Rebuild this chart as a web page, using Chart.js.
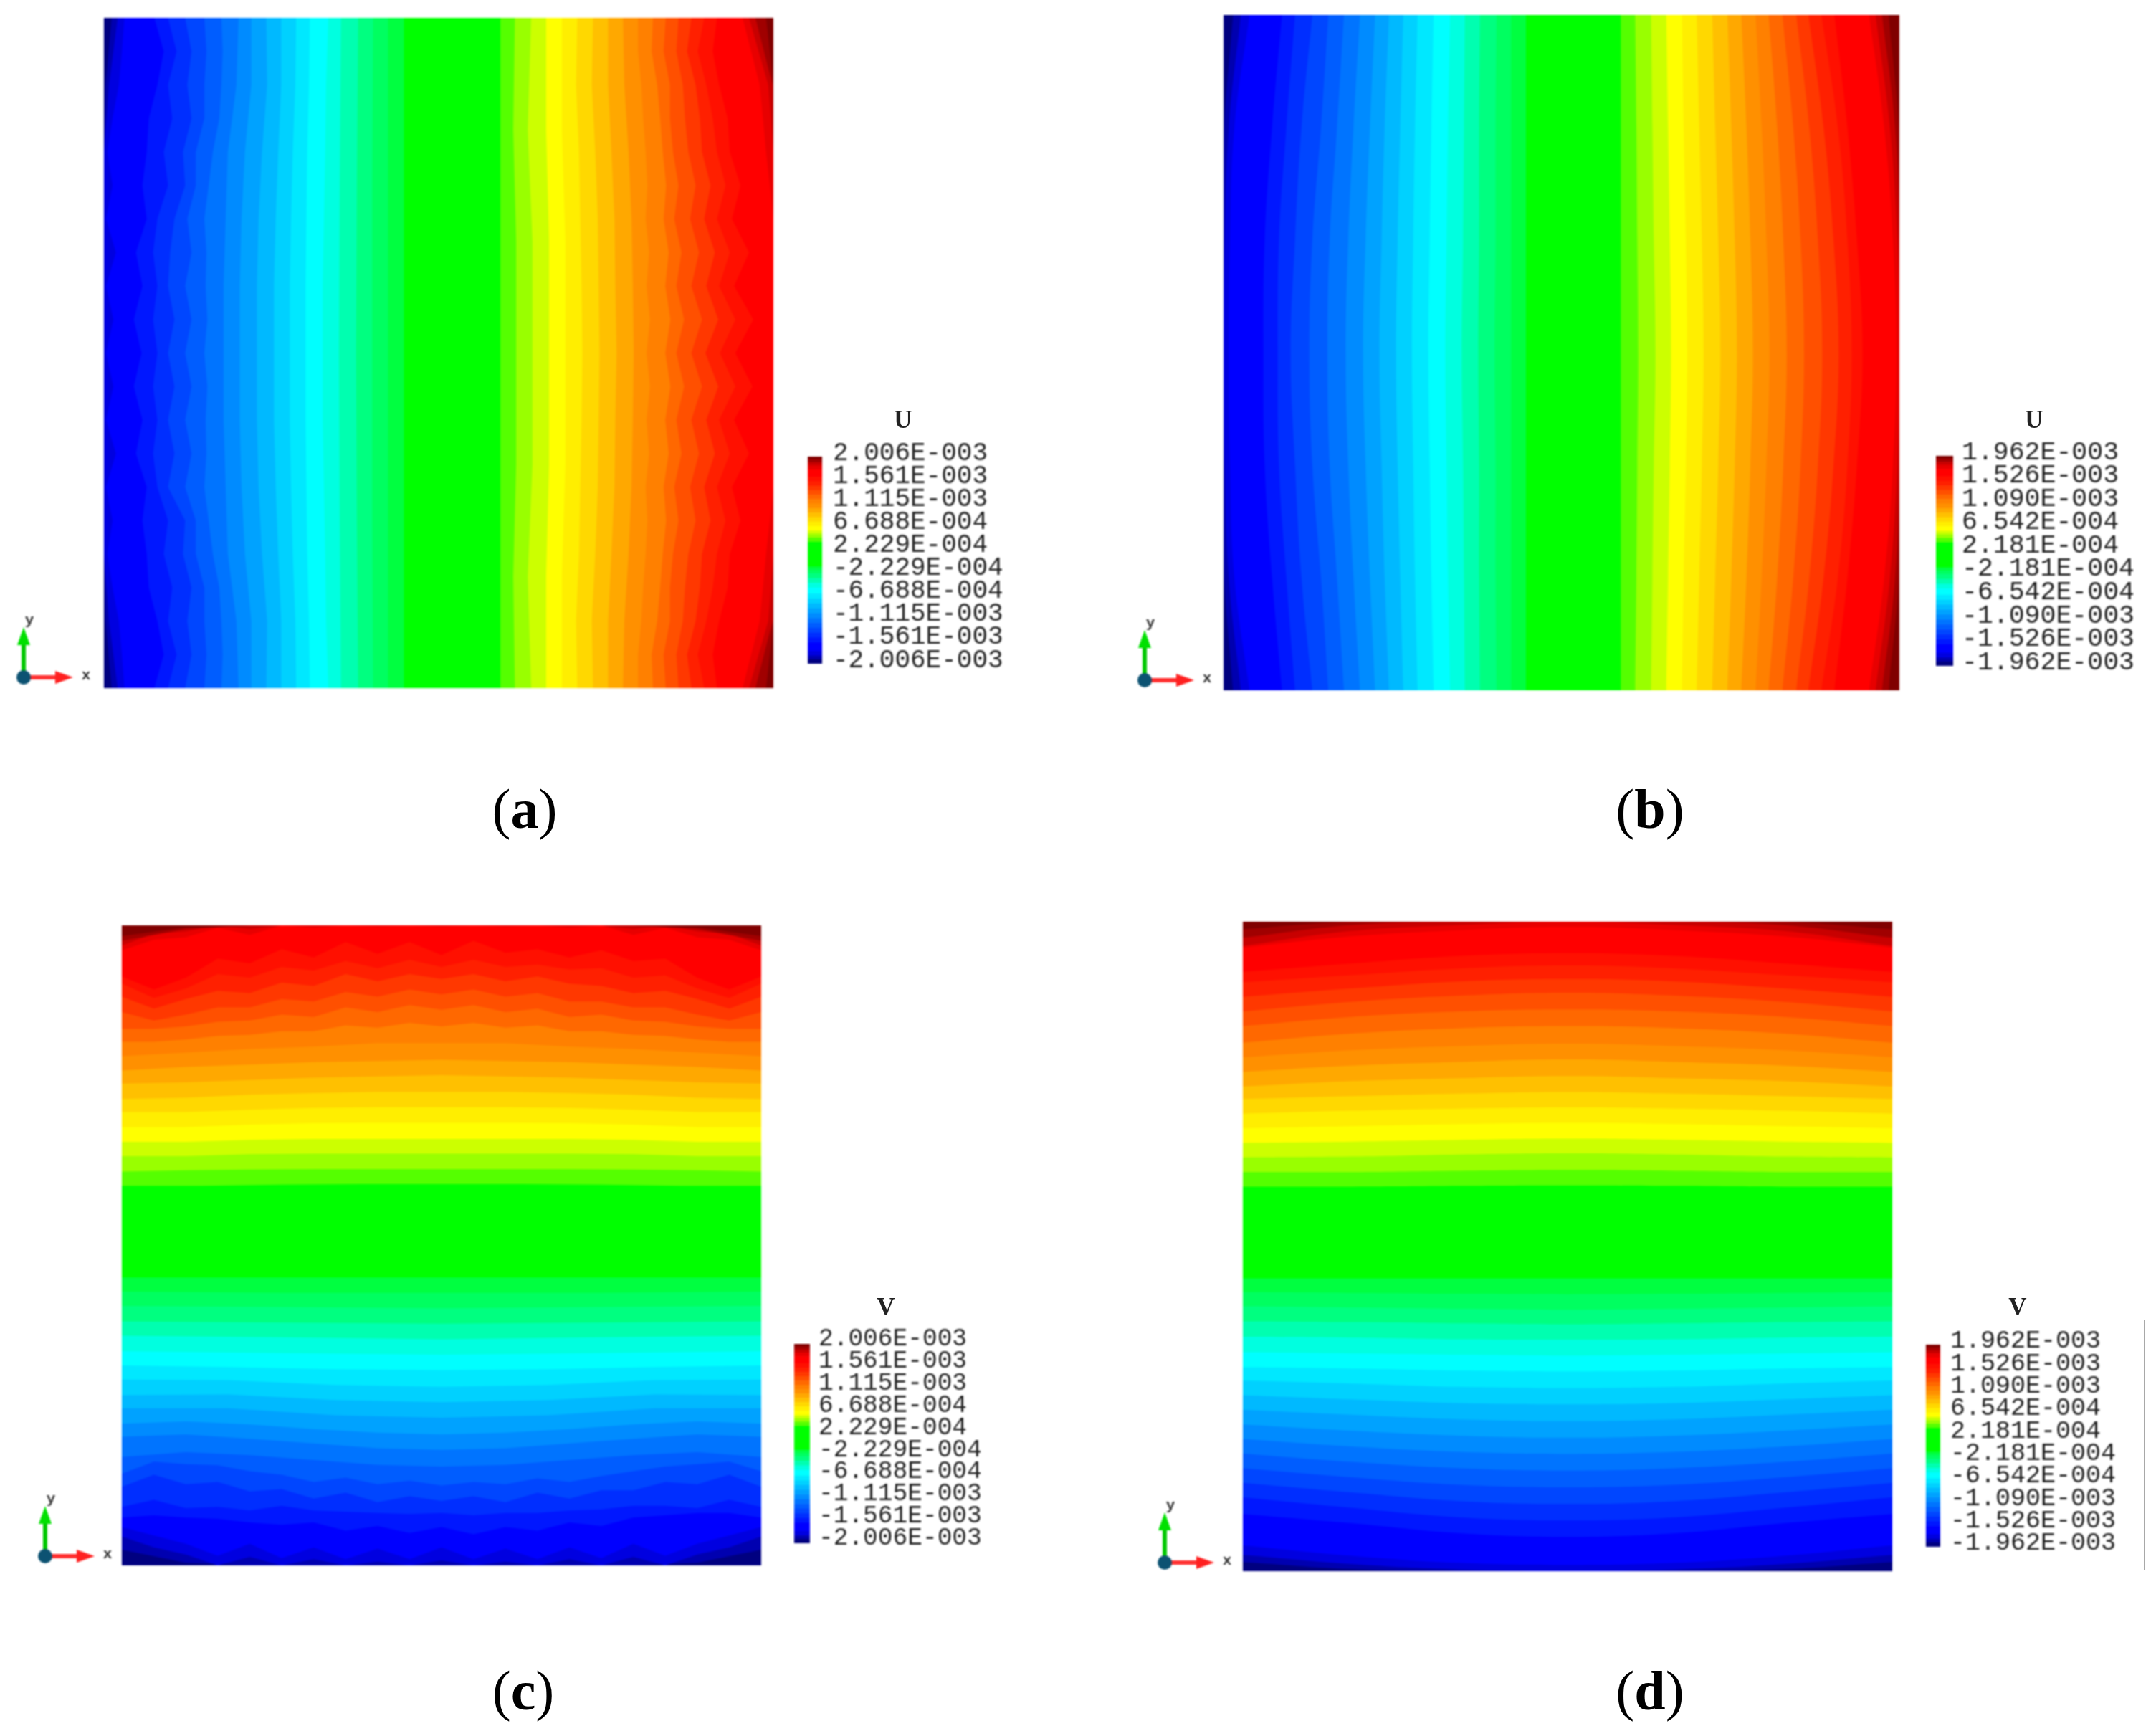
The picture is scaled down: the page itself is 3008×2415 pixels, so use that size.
<!DOCTYPE html>
<html>
<head>
<meta charset="utf-8">
<title>U and V contours</title>
<script src="https://cdn.jsdelivr.net/npm/chart.js@4"></script>
<style>
  html, body { margin: 0; background: #fff; }
  #page { position: relative; width: 3008px; height: 2415px; overflow: hidden; background: #fff; }
  #page canvas { position: absolute; }
  canvas.field { filter: blur(1.2px); }
  canvas.bar { filter: blur(0.8px); }
  .caption { position: absolute; font: 78px "Liberation Serif", serif; color: #000; transform: translate(-50%, -50%); }
  .barTitle { position: absolute; font: bold 35px "Liberation Serif", serif; color: #222; transform: translate(-50%, -50%); filter: blur(0.6px); }
  .triad { position: absolute; }
  #rule { position: absolute; left: 2991px; top: 1842px; width: 2px; height: 348px; background: #a8a8a8; }
</style>
</head>
<body>
<div id="page"><div id="rule"></div></div>
<script>
// contour band colours, lowest value first
const bandColors = [
  '#000080', '#0000b0', '#0000e0', '#0000ff',
  '#0017ff', '#002eff', '#0046ff', '#005dff', '#0074ff', '#008bff', '#00a2ff', '#00b9ff', '#00d1ff', '#00e8ff',
  '#00ffff', '#00ffe0', '#00ffb0', '#00ff80', '#00ff60', '#00ff40', '#00ff00',
  '#55ff00', '#99ff00', '#ccff00', '#ffff00',
  '#ffee00', '#ffd800', '#ffc000', '#ffa800', '#ff9000', '#ff8000', '#ff6800', '#ff5000', '#ff3800', '#ff2000', '#ff1000',
  '#ff0000', '#e80000', '#c80000', '#a00000', '#800000'
];

// colour bar band edges, in units of 1E-3
const barLevelsWide = [
  -2.006, -1.923, -1.853, -1.761, -1.599, -1.504, -1.410, -1.315, -1.220, -1.125, -1.031, -0.936, -0.841, -0.746,
  -0.652, -0.536, -0.444, -0.351, -0.259, -0.189, -0.129, 0.351, 0.435, 0.504, 0.564, 0.656, 0.744, 0.830, 0.917,
  1.003, 1.091, 1.179, 1.264, 1.352, 1.437, 1.525, 1.613, 1.752, 1.830, 1.890, 1.951, 2.006
];
const barLevelsNarrow = [
  -1.962, -1.881, -1.812, -1.722, -1.564, -1.471, -1.379, -1.286, -1.193, -1.100, -1.008, -0.915, -0.822, -0.730,
  -0.638, -0.524, -0.434, -0.343, -0.253, -0.185, -0.126, 0.343, 0.425, 0.493, 0.552, 0.642, 0.728, 0.812, 0.897,
  0.981, 1.067, 1.153, 1.236, 1.322, 1.405, 1.491, 1.578, 1.713, 1.790, 1.848, 1.908, 1.962
];

const tickValuesWide = [2.006, 1.561, 1.115, 0.6688, 0.2229, -0.2229, -0.6688, -1.115, -1.561, -2.006];
const tickValuesNarrow = [1.962, 1.526, 1.090, 0.6542, 0.2181, -0.2181, -0.6542, -1.090, -1.526, -1.962];
const tickLabelsWide = ['2.006E-003', '1.561E-003', '1.115E-003', '6.688E-004', '2.229E-004', '-2.229E-004', '-6.688E-004', '-1.115E-003', '-1.561E-003', '-2.006E-003'];
const tickLabelsNarrow = ['1.962E-003', '1.526E-003', '1.090E-003', '6.542E-004', '2.181E-004', '-2.181E-004', '-6.542E-004', '-1.090E-003', '-1.526E-003', '-1.962E-003'];

// contour lines: each row is one iso-line, sampled evenly along the panel
// panel (a), position across the width, 0..1567
const contoursA = [
  [18,4,0,0,0,0,0,0,0,4,18],
  [32,12,0,0,0,0,0,0,0,12,32],
  [48,42,35,20,8,20,5,28,5,22,5,22,5,28,5,20,8,20,35,42,48],
  [118,140,125,105,100,90,100,75,90,70,88,70,90,75,100,90,100,105,125,140,118],
  [150,170,150,160,140,150,125,115,125,115,125,115,125,115,125,150,140,160,150,170,150],
  [190,205,195,205,185,190,165,155,150,165,150,165,150,165,150,190,185,205,195,205,190],
  [235,240,235,235,215,215,195,205,190,205,190,205,190,205,190,215,215,235,235,240,235],
  [275,278,275,270,255,245,235,240,238,242,235,242,238,240,235,245,255,270,275,278,275],
  [315,310,290,285,280,280,280,285,290,310,315],
  [345,345,330,322,318,318,318,322,330,345,345],
  [380,382,370,362,358,358,358,362,370,382,380],
  [415,415,408,402,398,398,398,402,408,415,415],
  [450,448,442,438,435,435,435,438,442,448,450],
  [482,480,476,474,472,472,472,474,476,480,482],
  [525,520,518,515,512,512,512,515,518,520,525],
  [555,552,550,552,555],
  [595,592,590,592,595],
  [630,628,628,628,630],
  [665,665],
  [702,702],
  [928,928],
  [962,958,965,965,965,958,962],
  [1000,992,1003,1003,1003,992,1000],
  [1035,1035,1042,1042,1042,1035,1035],
  [1072,1072,1080,1080,1080,1072,1072],
  [1108,1105,1112,1115,1118,1120,1118,1115,1112,1105,1108],
  [1145,1142,1150,1156,1158,1160,1158,1156,1150,1142,1145],
  [1180,1180,1188,1195,1197,1200,1197,1195,1188,1180,1180],
  [1215,1218,1228,1235,1238,1240,1238,1235,1228,1218,1215],
  [1250,1250,1258,1262,1268,1272,1268,1276,1270,1278,1270,1278,1270,1276,1268,1272,1268,1262,1258,1250,1250],
  [1285,1282,1295,1302,1308,1316,1310,1322,1314,1326,1314,1326,1314,1322,1310,1316,1308,1302,1295,1282,1285],
  [1315,1310,1325,1325,1332,1345,1335,1352,1340,1358,1340,1358,1340,1352,1335,1345,1332,1325,1325,1310,1315],
  [1345,1340,1355,1360,1368,1385,1372,1393,1375,1400,1375,1400,1375,1393,1372,1385,1368,1360,1355,1340,1345],
  [1375,1365,1385,1395,1400,1420,1405,1430,1410,1438,1408,1438,1410,1430,1405,1420,1400,1395,1385,1365,1375],
  [1405,1390,1410,1425,1435,1455,1435,1465,1440,1478,1442,1478,1440,1465,1435,1455,1435,1425,1410,1390,1405],
  [1435,1425,1440,1460,1465,1490,1470,1510,1475,1520,1478,1518,1475,1510,1470,1490,1465,1460,1440,1425,1435],
  [1495,1535,1550,1567,1567,1567,1567,1567,1550,1535,1495],
  [1510,1555,1567,1567,1567,1567,1567,1567,1567,1555,1510],
  [1525,1565,1567,1567,1567,1567,1567,1567,1567,1565,1525],
  [1550,1567,1567,1567,1567,1567,1567,1567,1567,1567,1550]
];

// panel (b), position across the width, 0..1560
const contoursB = [
  [22,2,0,0,0,2,22],
  [40,12,3,0,3,12,40],
  [60,25,15,12,15,25,60],
  [135,112,95,92,95,112,135],
  [165,145,128,125,128,145,165],
  [205,180,165,155,165,180,205],
  [242,225,205,198,205,225,242],
  [278,262,245,240,245,262,278],
  [315,300,288,282,288,300,315],
  [350,338,328,322,328,338,350],
  [382,372,365,360,365,372,382],
  [415,408,402,398,402,408,415],
  [448,442,438,435,438,442,448],
  [485,480,476,473,476,480,485],
  [523,518,515,512,515,518,523],
  [557,555,553,550,553,555,557],
  [592,590,590,588,590,590,592],
  [630,628,628,626,628,628,630],
  [664,664],
  [698,698],
  [917,917],
  [950,953,955,957,955,953,950],
  [987,990,993,997,993,990,987],
  [1022,1026,1030,1033,1030,1026,1022],
  [1058,1062,1067,1070,1067,1062,1058],
  [1092,1098,1104,1108,1104,1098,1092],
  [1128,1135,1142,1147,1142,1135,1128],
  [1163,1172,1180,1185,1180,1172,1163],
  [1195,1207,1216,1222,1216,1207,1195],
  [1228,1242,1253,1260,1253,1242,1228],
  [1258,1278,1292,1300,1292,1278,1258],
  [1290,1315,1332,1340,1332,1315,1290],
  [1322,1352,1372,1382,1372,1352,1322],
  [1350,1385,1408,1420,1408,1385,1350],
  [1380,1418,1440,1450,1440,1418,1380],
  [1410,1440,1462,1475,1462,1440,1410],
  [1490,1525,1545,1553,1545,1525,1490],
  [1505,1538,1555,1560,1555,1538,1505],
  [1520,1550,1560,1560,1560,1550,1520],
  [1535,1558,1560,1560,1560,1558,1535]
];

// panel (c), position down the height from the top, 0..2691
const contoursC = [
  [45,8,0,0,0,0,0,0,0,8,45],
  [65,15,0,0,0,0,0,0,0,15,65],
  [85,35,25,0,15,0,0,0,0,0,0,0,0,0,0,0,15,0,25,35,85],
  [105,60,50,10,40,0,10,0,5,0,5,0,5,0,10,0,40,10,50,60,105],
  [215,270,220,140,160,100,135,70,120,70,125,65,115,100,135,105,150,140,220,270,215],
  [245,305,265,205,220,175,190,150,180,145,175,145,175,165,185,180,220,210,265,305,245],
  [300,350,310,275,285,240,255,205,235,205,225,205,235,215,245,255,285,275,310,350,300],
  [365,400,375,345,345,310,320,280,300,270,290,270,300,285,320,320,345,345,375,400,365],
  [435,435,425,405,400,375,385,345,365,335,355,335,365,350,385,375,400,405,425,435,435],
  [490,490,480,465,460,445,445,420,430,410,425,410,430,420,445,445,460,465,480,490,490],
  [550,535,520,510,495,495,495,510,520,535,550],
  [610,595,585,575,570,565,570,575,585,595,610],
  [665,660,650,640,635,630,635,640,650,660,665],
  [730,725,712,705,700,700,700,705,712,725,730],
  [785,785,775,768,765,765,765,768,775,785,785],
  [848,848,838,832,830,830,830,832,838,848,848],
  [910,910,902,898,898,898,898,898,902,910,910],
  [970,970,962,960,960,960,960,960,962,970,970],
  [1035,1030,1027,1025,1025,1025,1025,1025,1027,1030,1035],
  [1095,1095,1090,1088,1088,1088,1090,1095,1095],
  [1480,1480],
  [1540,1545,1545,1545,1540],
  [1600,1605,1610,1605,1600],
  [1665,1670,1675,1670,1665],
  [1725,1732,1740,1732,1725],
  [1790,1798,1805,1798,1790],
  [1850,1857,1866,1870,1866,1857,1850],
  [1910,1912,1932,1940,1932,1912,1910],
  [1975,1972,1996,2005,1996,1972,1975],
  [2030,2030,2060,2070,2060,2030,2030],
  [2095,2085,2098,2118,2133,2140,2133,2118,2098,2085,2095],
  [2150,2140,2158,2178,2198,2205,2198,2178,2158,2140,2150],
  [2235,2215,2228,2248,2268,2275,2268,2248,2228,2215,2235],
  [2305,2255,2265,2270,2295,2310,2340,2322,2350,2335,2355,2340,2350,2325,2340,2315,2295,2275,2265,2255,2295],
  [2360,2310,2350,2340,2380,2370,2410,2385,2425,2400,2420,2400,2425,2385,2410,2375,2375,2340,2350,2310,2360],
  [2445,2415,2450,2445,2460,2440,2460,2465,2470,2475,2470,2480,2470,2470,2460,2455,2440,2440,2450,2415,2445],
  [2490,2480,2490,2495,2510,2520,2510,2545,2525,2555,2530,2560,2530,2545,2510,2525,2490,2480,2470,2470,2490],
  [2530,2565,2600,2650,2600,2660,2615,2665,2620,2665,2615,2665,2620,2665,2615,2660,2600,2650,2600,2565,2530],
  [2570,2615,2645,2691,2655,2691,2665,2691,2675,2691,2670,2691,2675,2691,2665,2691,2655,2691,2645,2615,2570],
  [2625,2680,2691,2691,2691,2691,2691,2691,2691,2680,2625]
];

// panel (d), position down the height from the top, 0..1557
const contoursD = [
  [18,0,0,0,0,0,18],
  [38,8,0,0,0,8,38],
  [58,22,8,0,8,22,58],
  [62,35,20,12,20,35,62],
  [120,100,82,75,82,100,120],
  [145,128,112,105,112,128,145],
  [180,160,143,137,143,160,180],
  [215,192,177,170,177,192,215],
  [250,228,215,210,215,228,250],
  [290,268,255,250,255,268,290],
  [325,308,298,292,298,308,325],
  [360,345,336,330,336,345,360],
  [395,382,375,370,375,382,395],
  [425,418,412,408,412,418,425],
  [460,453,448,445,448,453,460],
  [495,490,485,482,485,490,495],
  [530,527,523,520,523,527,530],
  [565,563,558,555,558,563,565],
  [600,600,597,595,597,600,600],
  [635,635,633,632,633,635,635],
  [855,855],
  [888,890,892,893,892,890,888],
  [922,925,928,930,928,925,922],
  [958,960,963,965,963,960,958],
  [995,997,1001,1002,1001,997,995],
  [1032,1035,1038,1040,1038,1035,1032],
  [1068,1071,1076,1078,1076,1071,1068],
  [1100,1107,1115,1118,1115,1107,1100],
  [1135,1145,1154,1157,1154,1145,1135],
  [1170,1182,1193,1197,1193,1182,1170],
  [1205,1220,1232,1237,1232,1220,1205],
  [1240,1258,1271,1276,1271,1258,1240],
  [1275,1295,1310,1316,1310,1295,1275],
  [1310,1332,1350,1356,1350,1332,1310],
  [1345,1368,1389,1396,1389,1368,1345],
  [1380,1405,1428,1435,1428,1405,1380],
  [1420,1442,1466,1475,1466,1442,1420],
  [1495,1520,1537,1542,1537,1520,1495],
  [1518,1540,1553,1557,1553,1540,1518],
  [1535,1552,1557,1557,1557,1552,1535]
];

Chart.defaults.animation = false;
Chart.defaults.responsive = false;
Chart.defaults.devicePixelRatio = 1;

const page = document.getElementById('page');

function addCanvas(box, className) {
  const canvas = document.createElement('canvas');
  canvas.className = className;
  canvas.width = box.width;
  canvas.height = box.height;
  canvas.style.left = box.left + 'px';
  canvas.style.top = box.top + 'px';
  page.appendChild(canvas);
  return canvas;
}

function addText(className, html, x, y) {
  const div = document.createElement('div');
  div.className = className;
  div.style.left = x + 'px';
  div.style.top = y + 'px';
  div.innerHTML = html;
  page.appendChild(div);
}

// painted from the line towards value 0, first dataset ends up on top
function drawField(box, contours, extent, across, colors, tension) {
  const datasets = contours.concat([[extent, extent]]).map((line, k) => ({
    data: line.map((value, i) => {
      const along = i / (line.length - 1);
      return across ? { x: value, y: along } : { x: along, y: value };
    }),
    backgroundColor: colors[k],
    borderWidth: 0,
    pointRadius: 0,
    tension: tension,
    fill: { value: 0 }
  }));

  new Chart(addCanvas(box, 'field'), {
    type: 'line',
    data: { datasets: datasets },
    options: {
      indexAxis: across ? 'y' : 'x',
      plugins: { legend: { display: false }, tooltip: { enabled: false } },
      scales: {
        x: across
          ? { type: 'linear', display: false, min: 0, max: extent }
          : { type: 'linear', display: false, min: 0, max: 1 },
        y: across
          ? { type: 'linear', display: false, min: 0, max: 1, reverse: true }
          : { type: 'linear', display: false, min: 0, max: extent, reverse: true }
      }
    }
  });
}

function drawColorBar(cfg) {
  // margin has to stay above half a label plus the tick padding
  const margin = 45;
  const box = {
    left: cfg.barLeft - 20,
    top: cfg.barTop - margin,
    width: 320,
    height: cfg.barBottom - cfg.barTop + 2 * margin
  };

  new Chart(addCanvas(box, 'bar'), {
    type: 'bar',
    data: {
      labels: [''],
      datasets: bandColors.map((color, k) => ({
        data: [[cfg.levels[k], cfg.levels[k + 1]]],
        backgroundColor: color,
        borderWidth: 0,
        grouped: false,
        barPercentage: 1,
        categoryPercentage: 1
      }))
    },
    options: {
      layout: { padding: { left: 20, right: 0, top: margin, bottom: margin } },
      plugins: { legend: { display: false }, tooltip: { enabled: false } },
      scales: {
        x: { display: false },
        y: {
          type: 'linear',
          position: 'right',
          min: cfg.levels[0],
          max: cfg.levels[cfg.levels.length - 1],
          grid: { display: false, drawTicks: false },
          border: { display: false },
          afterBuildTicks(scale) {
            scale.ticks = cfg.tickValues.map(value => ({ value: value }));
          },
          afterFit(scale) {
            scale.width = box.width - 20 - cfg.barWidth;
          },
          ticks: {
            autoSkip: false,
            maxRotation: 0,
            padding: cfg.labelGap,
            labelOffset: cfg.labelShift,
            color: '#222',
            font: { family: '"Liberation Mono", monospace', size: cfg.fontSize },
            callback(value, index) {
              return cfg.tickLabels[index];
            }
          }
        }
      }
    }
  });

  addText('barTitle', cfg.title, cfg.titleX, cfg.titleY);
}

const reversedColors = bandColors.slice().reverse();

drawField({ left: 145, top: 25, width: 934, height: 935 }, contoursA, 1567, true, bandColors, 0);
drawField({ left: 1707, top: 21, width: 943, height: 942 }, contoursB, 1560, true, bandColors, 0.4);
drawField({ left: 170, top: 1291, width: 892, height: 893 }, contoursC, 2691, false, reversedColors, 0);
drawField({ left: 1734, top: 1286, width: 906, height: 906 }, contoursD, 1557, false, reversedColors, 0.4);

drawColorBar({ title: 'U', titleX: 1260, titleY: 586, barLeft: 1127, barWidth: 20, barTop: 637, barBottom: 926, labelGap: 15, labelShift: -5, fontSize: 36, levels: barLevelsWide, tickValues: tickValuesWide, tickLabels: tickLabelsWide });
drawColorBar({ title: 'U', titleX: 2838, titleY: 586, barLeft: 2701, barWidth: 24, barTop: 636, barBottom: 929, labelGap: 12, labelShift: -5, fontSize: 36.5, levels: barLevelsNarrow, tickValues: tickValuesNarrow, tickLabels: tickLabelsNarrow });
drawColorBar({ title: 'V', titleX: 1236, titleY: 1824, barLeft: 1108, barWidth: 22, barTop: 1875, barBottom: 2153, labelGap: 12, labelShift: -7, fontSize: 34.5, levels: barLevelsWide, tickValues: tickValuesWide, tickLabels: tickLabelsWide });
drawColorBar({ title: 'V', titleX: 2815, titleY: 1824, barLeft: 2687, barWidth: 20, barTop: 1876, barBottom: 2158, labelGap: 14, labelShift: -5, fontSize: 35, levels: barLevelsNarrow, tickValues: tickValuesNarrow, tickLabels: tickLabelsNarrow });

// panel captions
[['a', 732, 1129], ['b', 2302, 1129], ['c', 730, 2359], ['d', 2302, 2359]].forEach(([letter, x, y]) => {
  addText('caption', '(<b>' + letter + '</b>)', x, y);
});

// x/y axis triads, origin given in page pixels
[[33, 945], [1597, 949], [63, 2171], [1625, 2180]].forEach(([x, y]) => {
  const div = document.createElement('div');
  div.className = 'triad';
  div.style.left = (x - 20) + 'px';
  div.style.top = (y - 95) + 'px';
  div.innerHTML = `<svg width="130" height="115" style="filter:blur(0.8px)">
    <line x1="20" y1="95" x2="20" y2="40" stroke="#00c800" stroke-width="6"/>
    <polygon points="20,25 11,50 29,50" fill="#00e000"/>
    <line x1="20" y1="95" x2="72" y2="95" stroke="#ff3030" stroke-width="6"/>
    <polygon points="89,95 64,86 64,104" fill="#ff2020"/>
    <circle cx="20" cy="95" r="10" fill="#0c5272"/>
    <text x="28" y="21" text-anchor="middle" font-family="Liberation Mono" font-weight="bold" font-size="21" fill="#333">y</text>
    <text x="107" y="98" text-anchor="middle" font-family="Liberation Mono" font-weight="bold" font-size="21" fill="#333">x</text>
  </svg>`;
  page.appendChild(div);
});
</script>
</body>
</html>
